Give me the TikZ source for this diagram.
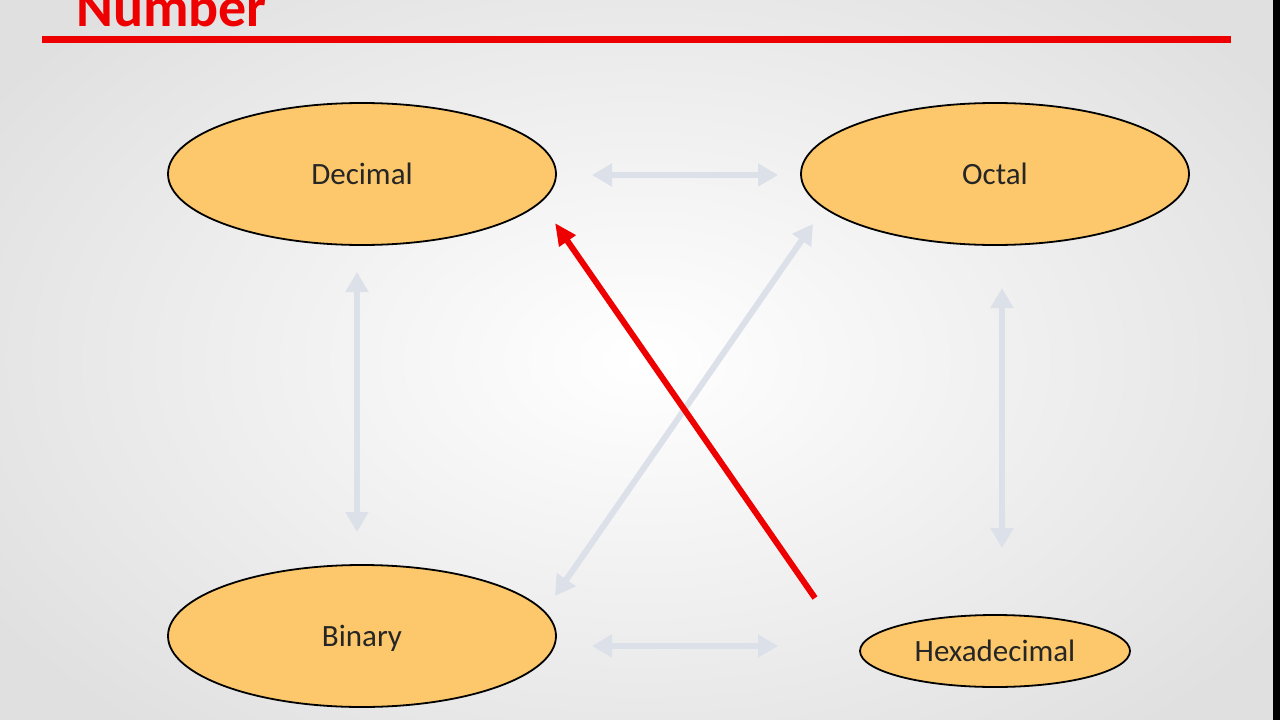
\documentclass[tikz,border=0pt]{standalone}
\usepackage{fontspec}
\setmainfont{Carlito}
\usetikzlibrary{arrows.meta,shapes.geometric}
\definecolor{gold}{RGB}{252,200,107}
\definecolor{lgray}{RGB}{220,224,232}
\definecolor{titlered}{RGB}{238,0,0}
\tikzset{
  numbox/.style={ellipse, draw=black, line width=1.8pt, fill=gold, inner sep=0pt, font=\fontsize{31}{34}\selectfont, text=black!85, text depth=0pt},
  grayarrow/.style={draw=lgray, line width=6pt, {Triangle[length=20pt,width=22pt]}-{Triangle[length=20pt,width=22pt]}},
  redarrow/.style={draw=titlered, line width=6pt, -{Triangle[length=22pt,width=19pt]}}
}
\begin{document}
\begin{tikzpicture}[x=1pt,y=-1pt]
\useasboundingbox (0,0) rectangle (1280,720);
\shade[inner color=white, outer color=black!12] (-120,-120) rectangle (1400,840);
\fill[black] (1273,0) rectangle (1280,720);
\node[anchor=base west, text=titlered, font=\bfseries\fontsize{56}{60}\selectfont, inner sep=0pt] (title) at (76,27) {Number};
\coordinate (rl) at (42,39.5);
\coordinate (rr) at (1231,39.5);
\draw[titlered, line width=7pt] (rl) -- (rr);

\node[numbox, minimum width=388pt, minimum height=142pt] (dec) at (362,174) {Decimal};
\node[numbox, minimum width=388pt, minimum height=142pt] (oct) at (995,174) {Octal};
\node[numbox, minimum width=388pt, minimum height=142pt] (bin) at (362,636) {Binary};
\node[numbox, minimum width=270pt, minimum height=72pt] (hex) at (995,651) {Hexadecimal};

\coordinate (dob1) at (592,175);
\coordinate (dob2) at (778,175);
\coordinate (bh1) at (592,646);
\coordinate (bh2) at (778,646);
\coordinate (db1) at (357,272);
\coordinate (db2) at (357,532);
\coordinate (oh1) at (1002,288);
\coordinate (oh2) at (1002,548);
\coordinate (ob1) at (813,224);
\coordinate (ob2) at (555,596);
\coordinate (hr) at (815,598);
\coordinate (dr) at (555,223);

\draw[grayarrow] (dob1) -- (dob2);
\draw[grayarrow] (bh1) -- (bh2);
\draw[grayarrow] (db1) -- (db2);
\draw[grayarrow] (oh1) -- (oh2);
\draw[grayarrow] (ob1) -- (ob2);
\draw[redarrow] (hr) -- (dr);
\end{tikzpicture}
\end{document}
